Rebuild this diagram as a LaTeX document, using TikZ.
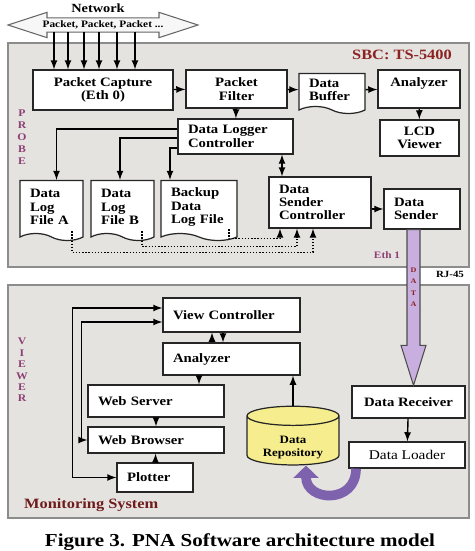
\documentclass[tikz,border=0pt]{standalone}
\usepackage{fontspec}
\setmainfont{Liberation Serif}[FakeStretch=1.15]
\usetikzlibrary{arrows,arrows.meta,shapes.geometric,shapes.symbols,shapes.arrows,calc}
\definecolor{panelgrey}{HTML}{E5E3E0}
\definecolor{sbcred}{HTML}{8B2323}
\definecolor{probeviolet}{HTML}{8E3F75}
\definecolor{datalilac}{HTML}{C9AEE0}
\definecolor{loadviolet}{HTML}{7E62AE}
\definecolor{repoyellow}{HTML}{F6EE8E}
\newcommand{\bx}{\fontsize{7.3}{7.6}\selectfont\bfseries}
\tikzset{>=latex}

\begin{document}
\begin{tikzpicture}[x=0.02cm, y=-0.02cm]
                % blk = plain box, lblk = left text, doc = file with wavy bottom
                \tikzstyle{blk}=[draw=black!85, fill=white, line width=0.7pt, inner ysep=0pt, font=\bx]
                \tikzstyle{cblk}=[blk, align=center]
                \tikzstyle{lblk}=[blk, align=left, inner xsep=0.2cm]
                \tikzstyle{doc}=[lblk, tape, tape bend top=none, tape bend bottom=out and in, tape bend height=4pt]
                \tikzstyle{pnl}=[draw=black!45, fill=panelgrey, line width=0.6pt]
                \tikzstyle{every edge}=[black, ->, thick, draw]
                \tikzstyle{dotted link}=[->, thick, densely dotted]
                \useasboundingbox (0,0) rectangle (474,551);
                \draw[pnl] (8,43) rectangle (469,267);
                \draw[pnl] (8,285) rectangle (469,518);

                % probe
                \node[double arrow, draw=black!60, fill=black!3, line width=0.6pt, minimum height=3.8cm, double arrow head extend=0.11cm, double arrow tip angle=36, inner ysep=1.4pt, font=\fontsize{5.6}{6}\selectfont\bfseries] (net) at (103,25) {Packet, Packet, Packet ...};
                \node[font=\fontsize{7.1}{8}\selectfont\bfseries] (netlbl) at (98,8) {Network};
                \node[cblk, minimum width=2.8cm, minimum height=0.8cm] (pcap) at (103,90) {Packet Capture\\(Eth 0)};
                \node[cblk, minimum width=2.02cm, minimum height=0.76cm] (pfil) at (236.5,89) {Packet\\Filter};
                \node[doc, text width=0.92cm, minimum height=0.8cm] (dbuf) at (332,90) {Data\\Buffer};
                \node[blk, minimum width=1.64cm, text height=0.32cm, text depth=0.44cm] (anlz) at (419,89) {Analyzer};
                \node[cblk, minimum width=1.58cm, minimum height=0.72cm] (lcd) at (419.5,138) {LCD\\Viewer};
                \node[lblk, text width=1.9cm, minimum height=0.7cm] (dlc) at (235.5,136.5) {Data Logger\\Controller};
                \node[doc, text width=0.86cm, minimum height=1.2cm] (filea) at (51.5,207) {Data\\Log\\File A};
                \node[doc, text width=0.86cm, minimum height=1.2cm] (fileb) at (122.5,207) {Data\\Log\\File B};
                \node[doc, text width=1.12cm, minimum height=1.2cm] (bkup) at (199,207) {Backup\\Data\\Log File};
                \node[lblk, text width=1.64cm, minimum height=1.02cm] (dsc) at (320,202.5) {Data\\Sender\\Controller};
                \node[lblk, text width=1.12cm, minimum height=0.8cm] (send) at (422,209) {Data\\Sender};

                \foreach \x in {54,68,84,99,117,135}
                        \draw[->, thick] (\x,0 |- net.center) ++(0,7) -- (\x,0 |- pcap.north);
                \draw (pcap) edge (pfil);
                \draw (pfil) edge (dbuf);
                \draw (dbuf) edge (anlz);
                \draw (pfil) edge (dlc);
                \draw (anlz) edge (lcd);
                \draw[->, thick] ([yshift=0.15cm]dlc.west) -| ([xshift=0.1cm]filea.north);
                \draw[->, thick] ([yshift=-0.03cm]dlc.west) -| ([xshift=-0.05cm]fileb.north);
                \draw[->, thick] ([yshift=-0.23cm]dlc.west) -| ([xshift=-0.58cm]bkup.north);
                \draw[<->, thick] ([xshift=-0.76cm]dsc.north) -- ([xshift=-0.76cm]dsc.north |- dlc.south);
                \draw[->, thick] (dsc.east |- send.west) -- (send.west);
                \draw[dotted link] ([xshift=0.41cm, yshift=0.06cm]filea.south) |- ([xshift=-0.14cm, yshift=-0.48cm]dsc.south) -- ([xshift=-0.14cm]dsc.south);
                \draw[dotted link] ([xshift=0.39cm, yshift=0.06cm]fileb.south) |- ([xshift=-0.46cm, yshift=-0.36cm]dsc.south) -- ([xshift=-0.46cm]dsc.south);
                \draw[dotted link] ([xshift=0.6cm, yshift=0.1cm]bkup.south) |- ([xshift=-0.8cm, yshift=-0.2cm]dsc.south) -- ([xshift=-0.8cm]dsc.south);

                \node[font=\fontsize{8.1}{9}\selectfont\bfseries, text=sbcred, anchor=east] (sbc) at (458,55) {SBC: TS-5400};
                \node[font=\fontsize{5.8}{6.9}\selectfont\bfseries, text=probeviolet, align=center] (probe) at (22,137) {P\\R\\O\\B\\E};
                \node[font=\fontsize{5.6}{6}\selectfont\bfseries, text=probeviolet] (eth) at (387,255) {Eth 1};
                \node[font=\fontsize{5.4}{6}\selectfont\bfseries] (rj) at (450,274) {RJ-45};

                % viewer
                \node[lblk, text width=2.34cm, minimum height=0.68cm] (vctl) at (231.5,315) {View Controller};
                \node[lblk, text width=2.34cm, minimum height=0.64cm] (vanl) at (231.5,359) {Analyzer};
                \node[lblk, text width=2.32cm, minimum height=0.64cm] (wsrv) at (156,401) {Web Server};
                \node[lblk, text width=2.32cm, minimum height=0.52cm] (brow) at (156,440) {Web Browser};
                \node[lblk, text width=1.12cm, minimum height=0.58cm] (plot) at (155,477.5) {Plotter};
                \node[cblk, minimum width=2.26cm, minimum height=0.64cm] (recv) at (408.5,402) {Data Receiver};
                \node[cblk, minimum width=2.32cm, minimum height=0.52cm, font=\fontsize{7.6}{8}\selectfont] (load) at (407,455) {Data Loader};
                \node[cylinder, shape border rotate=90, aspect=0.3, draw=black!85, line width=0.7pt, fill=repoyellow, minimum width=1.84cm, minimum height=1.12cm, inner xsep=1pt, inner ysep=0pt, text height=0.6cm, text depth=0.04cm, align=center, font=\fontsize{6.4}{7}\selectfont\bfseries] (repo) at (293,442) {Data\\Repository};

                \draw[<->, thick] ([yshift=0.14cm]vctl.west) -- ++(-90,0) |- (plot.west);
                \draw[<->, thick] ([yshift=-0.14cm]vctl.west) -- ++(-81,0) |- (brow.west);
                \draw[->, thick] ([xshift=-0.39cm]vanl.north) -- ([xshift=-0.39cm]vctl.south);
                \draw[->, thick] ([xshift=-0.17cm]vctl.south) -- ([xshift=-0.17cm]vanl.north);
                \draw[->, thick] ([xshift=-0.65cm]vanl.south) -- ([xshift=-0.65cm]vanl.south |- wsrv.north);
                \draw (wsrv) edge (brow);
                \draw (plot) edge (brow);
                \draw[->, thick] (repo.north) -- (repo.north |- vanl.south);
                \draw (recv) edge (load);
                \draw[line width=5.5pt, loadviolet, -{Triangle[width=14pt, length=7pt]}] ([xshift=-1.02cm]load.south) .. controls +(0,36) and +(0,36) .. ([xshift=0.26cm]repo.south);

                % data link
                \coordinate (dtop) at (413.5,0 |- send.south);
                \coordinate (dtip) at (413.5,0 |- recv.north);
                \draw[draw=black!70, fill=datalilac, line width=0.6pt] ($(dtop)+(-6.5,0)$) -- ($(dtip)+(-6.5,-40)$) -- ($(dtip)+(-12.5,-40)$) -- (dtip) -- ($(dtip)+(12.5,-40)$) -- ($(dtip)+(6.5,-40)$) -- ($(dtop)+(6.5,0)$) -- cycle;
                \node[font=\fontsize{4}{6.5}\selectfont\bfseries, text=sbcred, align=center] (datalbl) at (413.5,287) {D\\A\\T\\A};

                \node[font=\fontsize{5.8}{6.5}\selectfont\bfseries, text=probeviolet, align=center] (viewer) at (22,370) {V\\I\\E\\W\\E\\R};
                \node[font=\fontsize{8.1}{9}\selectfont\bfseries, text=sbcred!80!black, anchor=west] (mon) at (18,505) {Monitoring System};
                \node[font=\fontsize{10.4}{12}\selectfont\bfseries, anchor=base] (cap) at (240,546) {Figure 3. PNA Software architecture model};
        \end{tikzpicture}
\end{document}
